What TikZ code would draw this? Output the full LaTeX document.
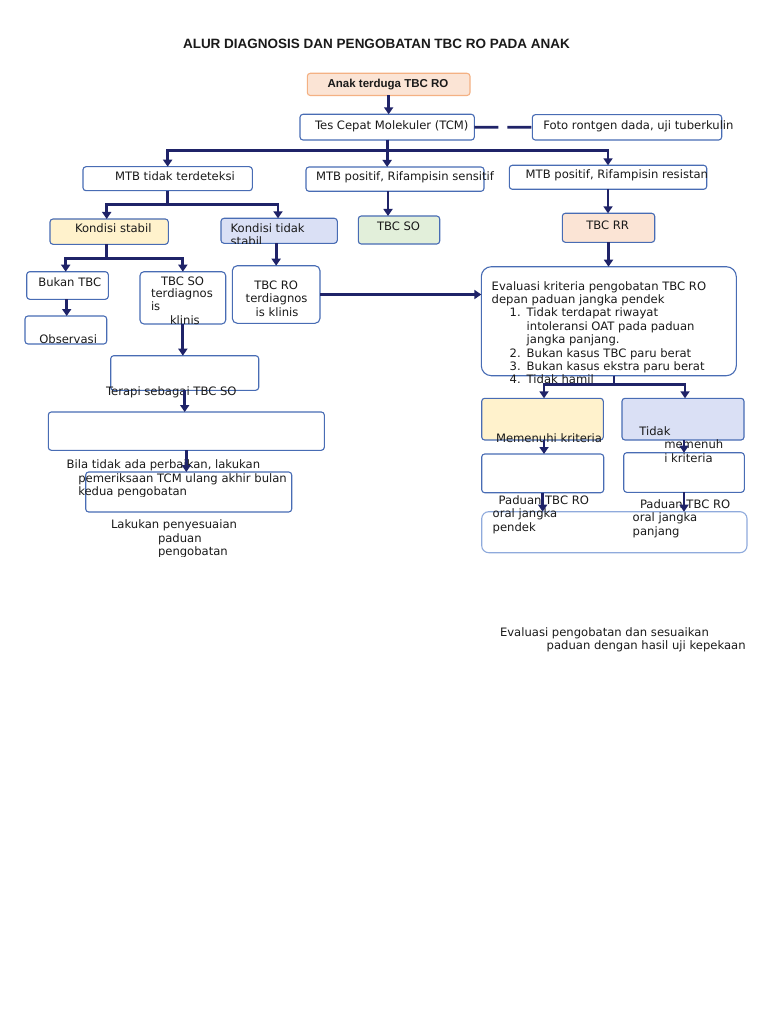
\documentclass[tikz,border=0pt]{standalone}
\usepackage{fontspec}
\setmainfont{DejaVu Sans}
\newfontfamily\arialfont{Liberation Sans}
\usetikzlibrary{arrows.meta,calc}
\definecolor{navy}{RGB}{31,35,104}
\definecolor{bord}{RGB}{72,108,180}
\definecolor{lbord}{RGB}{143,170,220}
\definecolor{peach}{RGB}{251,228,213}
\definecolor{peachb}{RGB}{244,177,131}
\definecolor{yel}{RGB}{255,242,204}
\definecolor{lblue}{RGB}{218,224,245}
\definecolor{lgreen}{RGB}{226,239,218}
\definecolor{ink}{RGB}{26,26,26}
\newcommand\mkbox[6][]{\node[box,#1,minimum width={(#4-#2)*1pt},minimum height={(#5-#3)*1pt}] (#6) at ({(#2+#4)/2},{(#3+#5)/2}) {};}
\newcommand\tx[4]{\node[txt] (#1) at (#2,#3) {#4};}
\begin{document}
\begin{tikzpicture}[x=1pt,y=-1pt,
  box/.style={draw=bord,line width=1.1pt,rounded corners=3pt,inner sep=0pt,outer sep=0pt,fill=white},
  txt/.style={anchor=base west,inner sep=0pt,outer sep=0pt,text=ink,font=\fontsize{11.6}{13.4}\selectfont},
  ln/.style={draw=navy,line width=2.8pt},
  arr/.style={ln,-{Triangle[width=9pt,length=7pt]}},
  font=\fontsize{11.6}{13.4}\selectfont]
\useasboundingbox[fill=white] (0,0) rectangle (768,1024);

% title
\node[anchor=base,inner sep=0pt,text=ink,font=\arialfont\bfseries\fontsize{13.5}{16}\selectfont] (title) at (376.5,48.3) {ALUR DIAGNOSIS DAN PENGOBATAN TBC RO PADA ANAK};

% boxes
\mkbox[fill=peach,draw=peachb]{307.3}{73.3}{470}{95.5}{anak}
\mkbox{300}{114.3}{474.3}{140}{tcm}
\mkbox{532.3}{114.7}{721.7}{140}{foto}
\mkbox{83}{166.7}{252.3}{190.7}{mtb1}
\mkbox{306}{167}{484}{191.3}{mtbS}
\mkbox{509.3}{165.3}{706.7}{189.3}{mtbR}
\mkbox[fill=yel]{50}{219}{168.3}{244.3}{ks}
\mkbox[fill=lblue]{221}{218.3}{337.3}{243.3}{kts}
\mkbox[fill=lgreen]{358.3}{216}{439.7}{244}{so}
\mkbox[fill=peach]{562.3}{213.3}{654.7}{242.3}{rr}
\mkbox{26.7}{271.7}{108.3}{299.3}{bukan}
\mkbox{25}{316}{106.7}{344}{obs}
\mkbox[rounded corners=4pt]{140}{271.7}{225.7}{324}{sod}
\mkbox[rounded corners=5pt]{232.3}{265.7}{320}{323.3}{rod}
\mkbox[rounded corners=10pt]{481.3}{266.7}{736.3}{375.7}{eval}
\mkbox{110.7}{355.7}{258.7}{390.3}{ter}
\mkbox{48.3}{412}{324.3}{450.3}{big}
\mkbox{85.7}{472}{291.7}{512}{bila}
\mkbox[fill=yel]{481.7}{398.3}{603.3}{440}{mem}
\mkbox[fill=lblue]{622}{398.3}{744}{440}{tdk}
\mkbox{481.7}{454}{603.7}{492.7}{pl}
\mkbox{623.7}{452.7}{744.3}{492.3}{pr}
\mkbox[draw=lbord,rounded corners=7pt]{481.7}{511.7}{747}{552.7}{bot}

% texts
\node[anchor=base,inner sep=0pt,text=ink,font=\arialfont\bfseries\fontsize{11.5}{14}\selectfont] (tanak) at (388,88) {Anak terduga TBC RO};
\tx{ttcm}{315}{129.5}{Tes Cepat Molekuler (TCM)}
\tx{tfoto}{543.3}{129.5}{Foto rontgen dada, uji tuberkulin}
\tx{tmtb1}{115}{180.5}{MTB tidak terdeteksi}
\tx{tmtbS}{316}{180.5}{MTB positif, Rifampisin sensitif}
\tx{tmtbR}{525.7}{179}{MTB positif, Rifampisin resistan}
\tx{tks}{75}{233}{Kondisi stabil}
\tx{tkts1}{230.7}{232.5}{Kondisi tidak}
\begin{scope}
\clip (0,0) rectangle (768,243.6);
\tx{tkts2}{230.7}{245.9}{stabil}
\end{scope}
\tx{tso}{377}{230}{TBC SO}
\tx{trr}{586.3}{229.3}{TBC RR}
\tx{tbukan}{38.3}{286}{Bukan TBC}
\begin{scope}
\clip (0,0) rectangle (768,344);
\tx{tobs}{39.3}{343.6}{Observasi}
\end{scope}
\tx{tsod1}{161}{285.3}{TBC SO}
\tx{tsod2}{151}{297.8}{terdiagnos}
\tx{tsod3}{151}{310.8}{is}
\tx{tsod4}{170}{324}{klinis}
\tx{trod1}{254.3}{289.3}{TBC RO}
\tx{trod2}{245.7}{302.7}{terdiagnos}
\tx{trod3}{255.7}{316}{is klinis}
\tx{tev1}{491.7}{290}{Evaluasi kriteria pengobatan TBC RO}
\tx{tev2}{491.7}{303.4}{depan paduan jangka pendek}
\tx{tn1}{509.7}{316.8}{1.}
\tx{tl1a}{526.7}{316.8}{Tidak terdapat riwayat}
\tx{tl1b}{526.7}{330.2}{intoleransi OAT pada paduan}
\tx{tl1c}{526.7}{343.6}{jangka panjang.}
\tx{tn2}{509.7}{357}{2.}
\tx{tl2}{526.7}{357}{Bukan kasus TBC paru berat}
\tx{tn3}{509.7}{370.4}{3.}
\tx{tl3}{526.7}{370.4}{Bukan kasus ekstra paru berat}
\tx{tn4}{509.7}{383.8}{4.}
\tx{tl4}{526.7}{383.8}{Tidak hamil}
\tx{tter}{106}{395.5}{Terapi sebagai TBC SO}
\tx{tbila1}{66.7}{468.7}{Bila tidak ada perbaikan, lakukan}
\tx{tbila2}{78.3}{482}{pemeriksaan TCM ulang akhir bulan}
\begin{scope}
\clip (0,0) rectangle (768,496);
\tx{tbila3}{78.3}{495.4}{kedua pengobatan}
\end{scope}
\tx{tlak1}{111}{528.7}{Lakukan penyesuaian}
\tx{tlak2}{158}{542}{paduan}
\begin{scope}
\clip (0,0) rectangle (768,556.5);
\tx{tlak3}{158}{555.4}{pengobatan}
\end{scope}
\tx{tmem}{496}{442}{Memenuhi kriteria}
\tx{ttdk1}{639.3}{435.3}{Tidak}
\tx{ttdk2}{664.3}{448.7}{memenuh}
\tx{ttdk3}{664.3}{462}{i kriteria}
\tx{tpl1}{498.7}{504}{Paduan TBC RO}
\tx{tpl2}{492.7}{517.5}{oral jangka}
\tx{tpl3}{492.7}{531}{pendek}
\tx{tpr1}{640}{508.3}{Paduan TBC RO}
\tx{tpr2}{632.7}{521.7}{oral jangka}
\tx{tpr3}{632.7}{535}{panjang}
\tx{tevb1}{500}{636}{Evaluasi pengobatan dan sesuaikan}
\tx{tevb2}{546.7}{649.4}{paduan dengan hasil uji kepekaan}

% helper coordinates
\coordinate (y1) at (0,150.7);
\coordinate (y2) at (0,204.3);
\coordinate (y3) at (0,258.3);
\coordinate (y4) at (0,384.3);
\coordinate (xks) at (106.7,0);
\coordinate (xkts) at (278,0);
\coordinate (xso) at (388,0);
\coordinate (xbk) at (65.7,0);
\coordinate (xob) at (66.7,0);
\coordinate (xev) at (614,0);
\coordinate (xmem) at (544,0);
\coordinate (xtdk) at (685,0);

% connectors
\draw[arr] (anak.south) -- (anak.south |- tcm.north);
\draw[ln,dash pattern=on 24pt off 9pt] (tcm.east) -- (foto.west);
\draw[arr] (tcm.south) -- (tcm.south |- y1) -| (mtb1.north);
\draw[arr] (tcm.south) -- (tcm.south |- y1) -| (mtbR.north);
\draw[arr] (tcm.south) -- (tcm.south |- mtbS.north);
\draw[arr] (mtb1.south) -- (mtb1.south |- y2) -| (xks |- ks.north);
\draw[arr] (mtb1.south) -- (mtb1.south |- y2) -| (xkts |- kts.north);
\draw[arr] (xso |- mtbS.south) -- (xso |- so.north);
\draw[arr] (mtbR.south) -- (mtbR.south |- rr.north);
\draw[arr] (rr.south) -- (rr.south |- eval.north);
\draw[arr] (xks |- ks.south) -- (xks |- y3) -| (xbk |- bukan.north);
\draw[arr] (xks |- ks.south) -- (xks |- y3) -| (sod.north);
\draw[arr] (xob |- bukan.south) -- (xob |- obs.north);
\draw[arr] (rod.north |- kts.south) -- (rod.north);
\draw[arr] (rod.east) -- (rod.east -| eval.west);
\draw[arr] (sod.south) -- (sod.south |- ter.north);
\draw[arr] (ter.south) -- (ter.south |- big.north);
\draw[arr] (big.south) -- (big.south |- bila.north);
\draw[arr] (xev |- eval.south) -- (xev |- y4) -| (xmem |- mem.north);
\draw[arr] (xev |- eval.south) -- (xev |- y4) -| (xtdk |- tdk.north);
\draw[arr] (xmem |- mem.south) -- (xmem |- pl.north);
\draw[arr] (pr.north |- tdk.south) -- (pr.north);
\draw[arr] (pl.south) -- (pl.south |- bot.north);
\draw[arr] (pr.south) -- (pr.south |- bot.north);
\end{tikzpicture}
\end{document}
